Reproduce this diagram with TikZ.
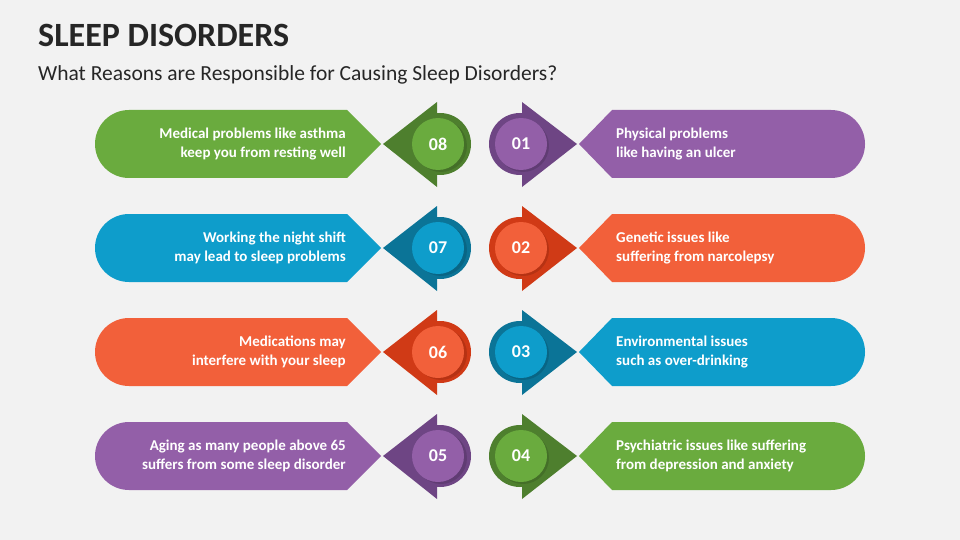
\documentclass[tikz,border=0pt]{standalone}
\usepackage{fontspec}
\setmainfont{Carlito}
\definecolor{bg}{HTML}{F2F2F2}
\definecolor{gL}{HTML}{6AAB3E}\definecolor{gD}{HTML}{4E7F2E}
\definecolor{pL}{HTML}{935FA8}\definecolor{pD}{HTML}{6E4584}
\definecolor{bL}{HTML}{0E9DCB}\definecolor{bD}{HTML}{0B7497}
\definecolor{oL}{HTML}{F2603A}\definecolor{oD}{HTML}{D03A16}
\definecolor{ttl}{HTML}{262626}
\tikzset{btxt/.style={text=white,font=\bfseries\fontsize{15}{19.5}\selectfont,inner sep=0pt},
numtxt/.style={text=white,font=\bfseries\fontsize{18}{20}\selectfont}}
\begin{document}
\begin{tikzpicture}[x=1pt,y=-1pt]
\fill[bg] (0,0) rectangle (960,540);
\useasboundingbox (0,0) rectangle (960,540);
\node[anchor=west,text=ttl,font=\bfseries\fontsize{34}{36}\selectfont,inner sep=0pt] (title) at (38,35) {SLEEP DISORDERS};
\node[anchor=west,text=ttl,font=\fontsize{21.5}{24}\selectfont,inner sep=0pt] (sub) at (38,75) {What Reasons are Responsible for Causing Sleep Disorders?};
\foreach \y/\lc/\dc/\n/\t/\rc/\rd/\m/\s in {
144/gL/gD/08/{Medical problems like asthma\\keep you from resting well}/pL/pD/01/{Physical problems\\like having an ulcer},
248/bL/bD/07/{Working the night shift\\may lead to sleep problems}/oL/oD/02/{Genetic issues like\\suffering from narcolepsy},
352/oL/oD/06/{Medications may\\interfere with your sleep}/bL/bD/03/{Environmental issues\\such as over-drinking},
456/pL/pD/05/{Aging as many people above 65\\suffers from some sleep disorder}/gL/gD/04/{Psychiatric issues like suffering\\from depression and anxiety}}{
 \fill[\lc] (129,\y-34) -- (347,\y-34) -- (381,\y) -- (347,\y+34) -- (129,\y+34) arc[start angle=90,end angle=270,radius=34] -- cycle;
 \node[btxt,anchor=east,align=right] (lt\n) at (346,\y) {\t};
 \fill[\dc] (383,\y) -- (437,\y-42) -- (437,\y+43) -- cycle;
 \fill[\dc] (440,\y) circle[radius=31];
 \fill[black,opacity=0.12] (441,\y+2) circle[radius=26];
 \node[circle,fill=\lc,minimum size=52pt,inner sep=0pt,numtxt] (c\n) at (438,\y) {\n};
 \fill[\rc] (612,\y-34) -- (831,\y-34) arc[start angle=-90,end angle=90,radius=34] -- (612,\y+34) -- (579,\y) -- cycle;
 \node[btxt,anchor=west,align=left] (rt\m) at (616,\y) {\s};
 \fill[\rd] (577,\y) -- (522,\y-42) -- (522,\y+43) -- cycle;
 \fill[\rd] (520,\y) circle[radius=31];
 \fill[black,opacity=0.12] (523,\y+2) circle[radius=26];
 \node[circle,fill=\rc,minimum size=52pt,inner sep=0pt,numtxt] (c\m) at (521,\y) {\m};
}
\end{tikzpicture}
\end{document}
